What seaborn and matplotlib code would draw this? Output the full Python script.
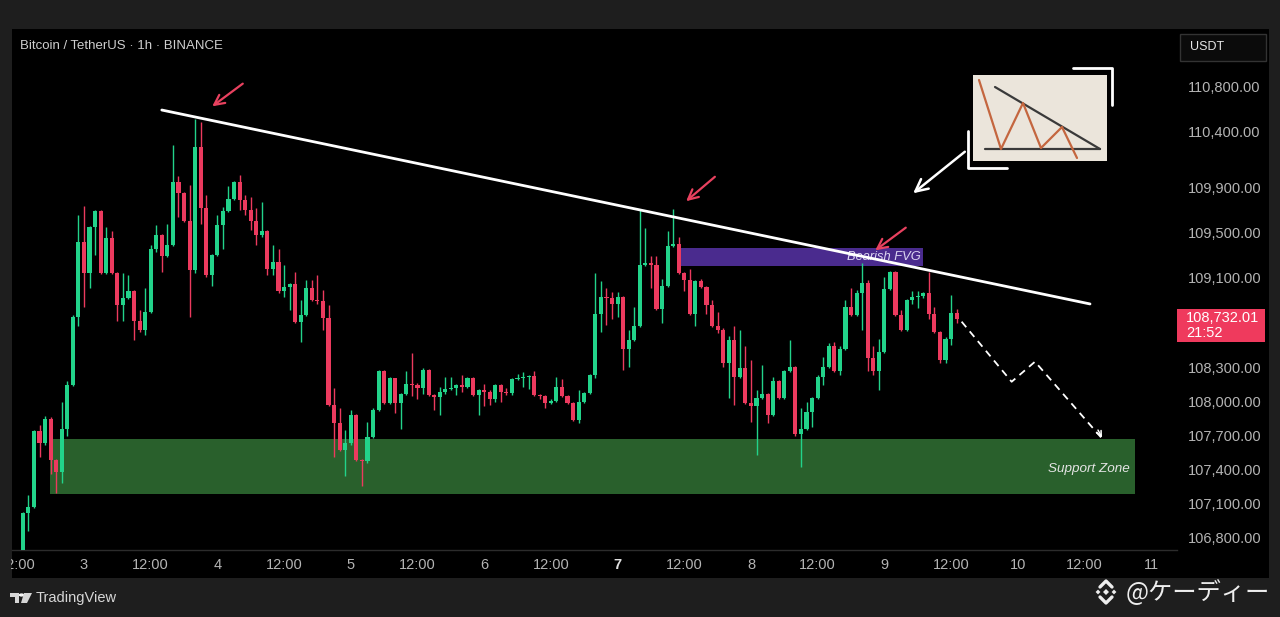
import matplotlib
matplotlib.use('Agg')
import numpy as np
import pandas as pd
import matplotlib.pyplot as plt
import seaborn as sns
from matplotlib.patches import Rectangle, FancyArrowPatch, Polygon, Circle
from matplotlib.lines import Line2D

# ---- 1h BTC/USDT candles, Jul 2 13:00 -> Jul 9 13:00 (open = previous close) ----
first_open = 106640
close = [107010, 107070, 107740, 107630, 107850, 107480, 107380, 107760, 108150, 108750,
         109420, 109140, 109550, 109690, 109140, 109450, 109140, 108860, 108920, 108980,
         108720, 108640, 108800, 109350, 109480, 109290, 109390, 109950, 109850, 109600,
         109170, 110260, 109720, 109120, 109300, 109570, 109690, 109800, 109950, 109790,
         109700, 109600, 109480, 109510, 109180, 109240, 108980, 109020, 109040, 108710,
         108770, 109010, 108900, 108890, 108740, 107970, 107810, 107570, 107630, 107880,
         107480, 107470, 107690, 107930, 108270, 107990, 108210, 107990, 108070, 108160,
         108150, 108120, 108280, 108060, 108040, 108090, 108110, 108120, 108150, 108130,
         108210, 108060, 108100, 108090, 108020, 108150, 108090, 108080, 108200, 108210,
         108220, 108230, 108060, 108050, 107990, 108010, 108130, 108050, 107990, 107840,
         108000, 108080, 108240, 108780, 108930, 108920, 108870, 108930, 108470, 108550,
         108670, 109210, 109230, 109210, 108820, 109030, 109380, 109400, 109140, 109080,
         108780, 109070, 109020, 108860, 108670, 108640, 108340, 108550, 108220, 108300,
         107990, 107960, 108030, 108070, 107880, 108180, 108030, 108270, 108310, 107710,
         107760, 107910, 108030, 108220, 108310, 108490, 108270, 108470, 108840, 108770,
         108960, 109050, 108390, 108270, 108440, 109000, 109150, 108770, 108640, 108900,
         108930, 108940, 108960, 108780, 108620, 108370, 108560, 108790, 108732.01]
high = [107020, 107170, 107750, 107790, 107870, 107860, 107490, 108000, 108180, 108770,
        109660, 109740, 109560, 109700, 109700, 109550, 109510, 109150, 109140, 109120,
        108990, 108810, 109010, 109390, 109570, 109490, 109580, 110280, 110000, 109860,
        109920, 110510, 110480, 109830, 109310, 109660, 109730, 109910, 109960, 110010,
        109830, 109820, 109720, 109770, 109520, 109390, 109350, 109210, 109050, 109150,
        108900, 109080, 109080, 109120, 108990, 108860, 108120, 107940, 107750, 107930,
        107890, 107490, 107820, 107940, 108280, 108280, 108220, 108210, 108080, 108270,
        108430, 108170, 108300, 108290, 108070, 108130, 108220, 108220, 108160, 108240,
        108220, 108220, 108110, 108160, 108100, 108160, 108160, 108120, 108210, 108250,
        108260, 108240, 108270, 108070, 108060, 108020, 108220, 108200, 108060, 108000,
        108100, 108090, 108250, 109140, 109070, 109010, 108970, 108970, 108940, 108640,
        108840, 109700, 109540, 109290, 109290, 109090, 109510, 109710, 109460, 109150,
        109180, 109080, 109090, 109030, 108900, 108800, 108650, 108580, 108670, 108640,
        108490, 108370, 108100, 108330, 108080, 108220, 108190, 108280, 108550, 108320,
        107940, 108000, 108040, 108240, 108400, 108520, 108530, 108490, 108900, 109010,
        108990, 109230, 109080, 108490, 108560, 109110, 109160, 109160, 108810, 108910,
        108980, 108980, 108970, 109150, 108840, 108630, 108570, 108950, 108820]
low = [106600, 106850, 107060, 107510, 107620, 107360, 107190, 107280, 107700, 108140,
       108670, 108840, 109010, 109300, 109130, 109130, 109130, 108720, 108720, 108910,
       108550, 108620, 108590, 108790, 109330, 109150, 109280, 109380, 109640, 109590,
       108750, 109140, 109580, 109110, 109030, 109290, 109350, 109680, 109790, 109700,
       109660, 109520, 109390, 109460, 109120, 109120, 108960, 108930, 108810, 108700,
       108530, 108760, 108890, 108870, 108640, 107960, 107510, 107560, 107340, 107620,
       107470, 107250, 107460, 107680, 107920, 107980, 107980, 107900, 107760, 108060,
       108050, 108020, 108070, 108050, 107930, 107880, 108070, 108100, 108060, 108090,
       108120, 108050, 107880, 107960, 107970, 108000, 108000, 108060, 108060, 108190,
       108130, 108110, 108050, 108020, 107940, 107980, 108000, 108040, 107980, 107830,
       107810, 107990, 108070, 108210, 108620, 108680, 108730, 108750, 108280, 108310,
       108540, 108660, 109200, 109010, 108810, 108700, 109020, 109370, 109130, 108980,
       108770, 108670, 109010, 108780, 108660, 108610, 108310, 108030, 107970, 108210,
       107980, 107820, 107530, 108020, 107810, 107870, 108020, 108020, 108260, 107700,
       107420, 107750, 107780, 108020, 108150, 108300, 108260, 108240, 108460, 108760,
       108760, 108640, 108270, 108240, 108100, 108430, 108990, 108760, 108630, 108630,
       108870, 108830, 108920, 108730, 108610, 108340, 108340, 108500, 108700]

price_ticks = [106800, 107100, 107400, 107700, 108000, 108300, 109100, 109500, 109900, 110400, 110800]
time_ticks = list(range(-12, 193, 12))
time_labels = ['12:00', '3', '12:00', '4', '12:00', '5', '12:00', '6', '12:00',
               '7', '12:00', '8', '12:00', '9', '12:00', '10', '12:00', '11']

# zones / drawings on the chart (hours from Jul 3 00:00, price)
support = (-6.1, 189.1, 107181, 107669)
fvg = (106.7, 151.0, 109204, 109363)
trend = ([14.0, 181.0], [110587, 108867])
proj = ([157.9, 166.9, 171.1, 183.4], [108710, 108177, 108355, 107660])

GREEN = '#22d38a'
RED = '#ec3a5e'
W, H = 1280, 617

sns.set_theme(style='dark')
plt.rcParams['font.family'] = ['Liberation Sans', 'Noto Sans CJK JP', 'DejaVu Sans']

df = pd.DataFrame({'close': close, 'high': high, 'low': low})
df['time'] = pd.date_range('2025-07-02 13:00', periods=len(df), freq='h')
df['open'] = df['close'].shift(1).fillna(first_open)
df['hours'] = (df['time'] - pd.Timestamp('2025-07-03')) / pd.Timedelta(hours=1)
colors = np.where(df['close'] >= df['open'], GREEN, RED)


def px(x, y):
    # pixel position of the screenshot -> figure fraction
    return (x / W, 1 - y / H)


fig = plt.figure(figsize=(12.8, 6.17), dpi=100, facecolor='#1e1e1e')
fig.add_artist(Rectangle(px(12, 578), (1269 - 12) / W, (578 - 29) / H,
                         transform=fig.transFigure, facecolor='black', edgecolor='none', zorder=-1))

ax = fig.add_axes([12 / W, 1 - 550 / H, (1177 - 12) / W, (550 - 30) / H])
ax.set_facecolor('black')
ax.grid(False)
ax.set_xlim(-12.95, 196.65)
ax.set_ylim(106684.8, 111296.7)

# candles
ax.vlines(df['hours'], df['low'], df['high'], colors=colors, lw=1, zorder=3)
body = (df['close'] - df['open']).abs().clip(lower=9)
ax.bar(df['hours'], body, bottom=df[['open', 'close']].min(axis=1),
       width=0.74, color=colors, linewidth=0, zorder=4)

# zones
ax.add_patch(Rectangle((support[0], support[2]), support[1] - support[0], support[3] - support[2],
                       facecolor='#29602c', edgecolor='none', zorder=2))
ax.text(support[1] - 0.9, (support[2] + support[3]) / 2 - 20, 'Support Zone', ha='right', va='center',
        style='italic', fontsize=9.7, color='#e4e4e4', zorder=5)
ax.add_patch(Rectangle((fvg[0], fvg[2]), fvg[1] - fvg[0], fvg[3] - fvg[2],
                       facecolor='#4a2b8e', edgecolor='none', zorder=2))
ax.text(fvg[1] - 0.5, (fvg[2] + fvg[3]) / 2, 'Bearish FVG', ha='right', va='center',
        style='italic', fontsize=9.3, color='#ddd6f2', zorder=5)

# trendline + projected path
ax.plot(trend[0], trend[1], color='white', lw=2, solid_capstyle='round', zorder=6)
ax.plot(proj[0], proj[1], color='white', lw=1.3, ls=(0, (4, 3)), zorder=6)
ax.annotate('', xy=(proj[0][-1], proj[1][-1]), xytext=(proj[0][-1] - 1.2, proj[1][-1] + 110),
            arrowprops=dict(arrowstyle='->', color='white', lw=1.1, mutation_scale=9), zorder=6)

# axes styling
ax.yaxis.tick_right()
ax.set_yticks(price_ticks)
ax.set_yticklabels([f'{v:,.2f}' for v in price_ticks])
ax.set_xticks(time_ticks)
ax.set_xticklabels(time_labels)
ax.tick_params(axis='y', length=0, pad=7.5, labelcolor='#b4b4b4', labelsize=10.5)
ax.tick_params(axis='x', length=0, pad=5.5, labelcolor='#b4b4b4', labelsize=10.5)
ax.get_xticklabels()[time_labels.index('7')].set_fontweight('bold')
ax.get_xticklabels()[time_labels.index('7')].set_color('#e0e0e0')
for side in ['top', 'left', 'right']:
    ax.spines[side].set_visible(False)
ax.spines['bottom'].set_color('#2c2c2c')
ax.spines['bottom'].set_linewidth(1)

# red pointer arrows and white arrow
for (x0, y0, x1, y1) in [(245, 82, 210, 108), (717, 175, 684, 203), (908, 226, 873, 252)]:
    fig.add_artist(FancyArrowPatch(px(x0, y0), px(x1, y1), transform=fig.transFigure,
                                   arrowstyle='->', mutation_scale=18, color='#e8415f', lw=1.6, zorder=8))
fig.add_artist(FancyArrowPatch(px(967, 150), px(911, 195), transform=fig.transFigure,
                               arrowstyle='->', mutation_scale=22, color='white', lw=1.8, zorder=8))

# descending triangle sketch
fig.add_artist(Rectangle(px(973, 161), 134 / W, 86 / H, transform=fig.transFigure,
                         facecolor='#ebe5db', edgecolor='none', zorder=8))
for pts, col in [([(995, 87), (1100, 149)], '#3a3a3a'), ([(985, 149), (1100, 149)], '#3a3a3a'),
                 ([(979, 80), (1001, 149), (1023, 103), (1041, 148), (1062, 127), (1077, 158)], '#c4663f'),
                 ([(1073, 68), (1112, 68), (1112, 105)], 'white'), ([(968, 131), (968, 168), (1007, 168)], 'white')]:
    xy = [px(x, y) for x, y in pts]
    fig.add_artist(Line2D([p[0] for p in xy], [p[1] for p in xy], transform=fig.transFigure,
                          color=col, lw=1.6 if col != 'white' else 2, zorder=9))

# header, price axis extras
fig.text(*px(20, 46), 'Bitcoin / TetherUS · 1h · BINANCE', va='center', color='#cfcfcf', fontsize=9.5)
fig.add_artist(Rectangle(px(1180, 61), 86 / W, 27 / H, transform=fig.transFigure,
                         facecolor='#0b0b0b', edgecolor='#333333', lw=1, zorder=5))
fig.text(*px(1190, 47), 'USDT', va='center', color='#e6e6e6', fontsize=9, zorder=6)
fig.add_artist(Rectangle(px(1177, 342), 88 / W, 33 / H, transform=fig.transFigure,
                         facecolor='#ef3a5d', edgecolor='none', zorder=5))
fig.text(*px(1186, 318), f'{close[-1]:,.2f}', va='center', color='white', fontsize=10.5, zorder=6)
fig.text(*px(1186, 333), '21:52', va='center', color='white', fontsize=10.5, zorder=6)

# left margin cover (clips the first "12:00" label like the screenshot)
fig.add_artist(Rectangle((0, 0), 11 / W, 1, transform=fig.transFigure,
                         facecolor='#1e1e1e', edgecolor='none', zorder=20))

# footer: TradingView logo + text
logo_c = '#d6d6d6'
fig.add_artist(Polygon([px(10, 593), px(19, 593), px(19, 603), px(15, 603), px(15, 597), px(10, 597)],
                       closed=True, transform=fig.transFigure, facecolor=logo_c, edgecolor='none', zorder=21))
fig.add_artist(Circle(px(21.5, 595), 1.9 / W, transform=fig.transFigure, facecolor=logo_c, zorder=21))
fig.add_artist(Polygon([px(24, 593), px(32, 593), px(27, 603), px(21, 603)],
                       closed=True, transform=fig.transFigure, facecolor=logo_c, edgecolor='none', zorder=21))
fig.text(*px(36, 598), 'TradingView', va='center', color=logo_c, fontsize=10.5, zorder=21)

# footer watermark
wm = '#eeeeee'
for cx, cy, s in [(1106, 592, 3.0), (1098, 592, 2.4), (1114, 592, 2.4)]:
    fig.add_artist(Polygon([px(cx - s, cy), px(cx, cy - s), px(cx + s, cy), px(cx, cy + s)],
                           closed=True, transform=fig.transFigure, facecolor=wm, edgecolor='none', zorder=21))
for pts in [[(1100, 587), (1106, 581), (1112, 587)], [(1100, 597), (1106, 603), (1112, 597)]]:
    xy = [px(x, y) for x, y in pts]
    fig.add_artist(Line2D([p[0] for p in xy], [p[1] for p in xy], transform=fig.transFigure,
                          color=wm, lw=2.4, zorder=21))
fig.text(*px(1126, 593), '@ケーディー', va='center', ha='left', color=wm, fontsize=17.5,
         family=['Noto Sans CJK JP', 'DejaVu Sans'], zorder=21)

fig.savefig('out.png', dpi=100, facecolor=fig.get_facecolor())
